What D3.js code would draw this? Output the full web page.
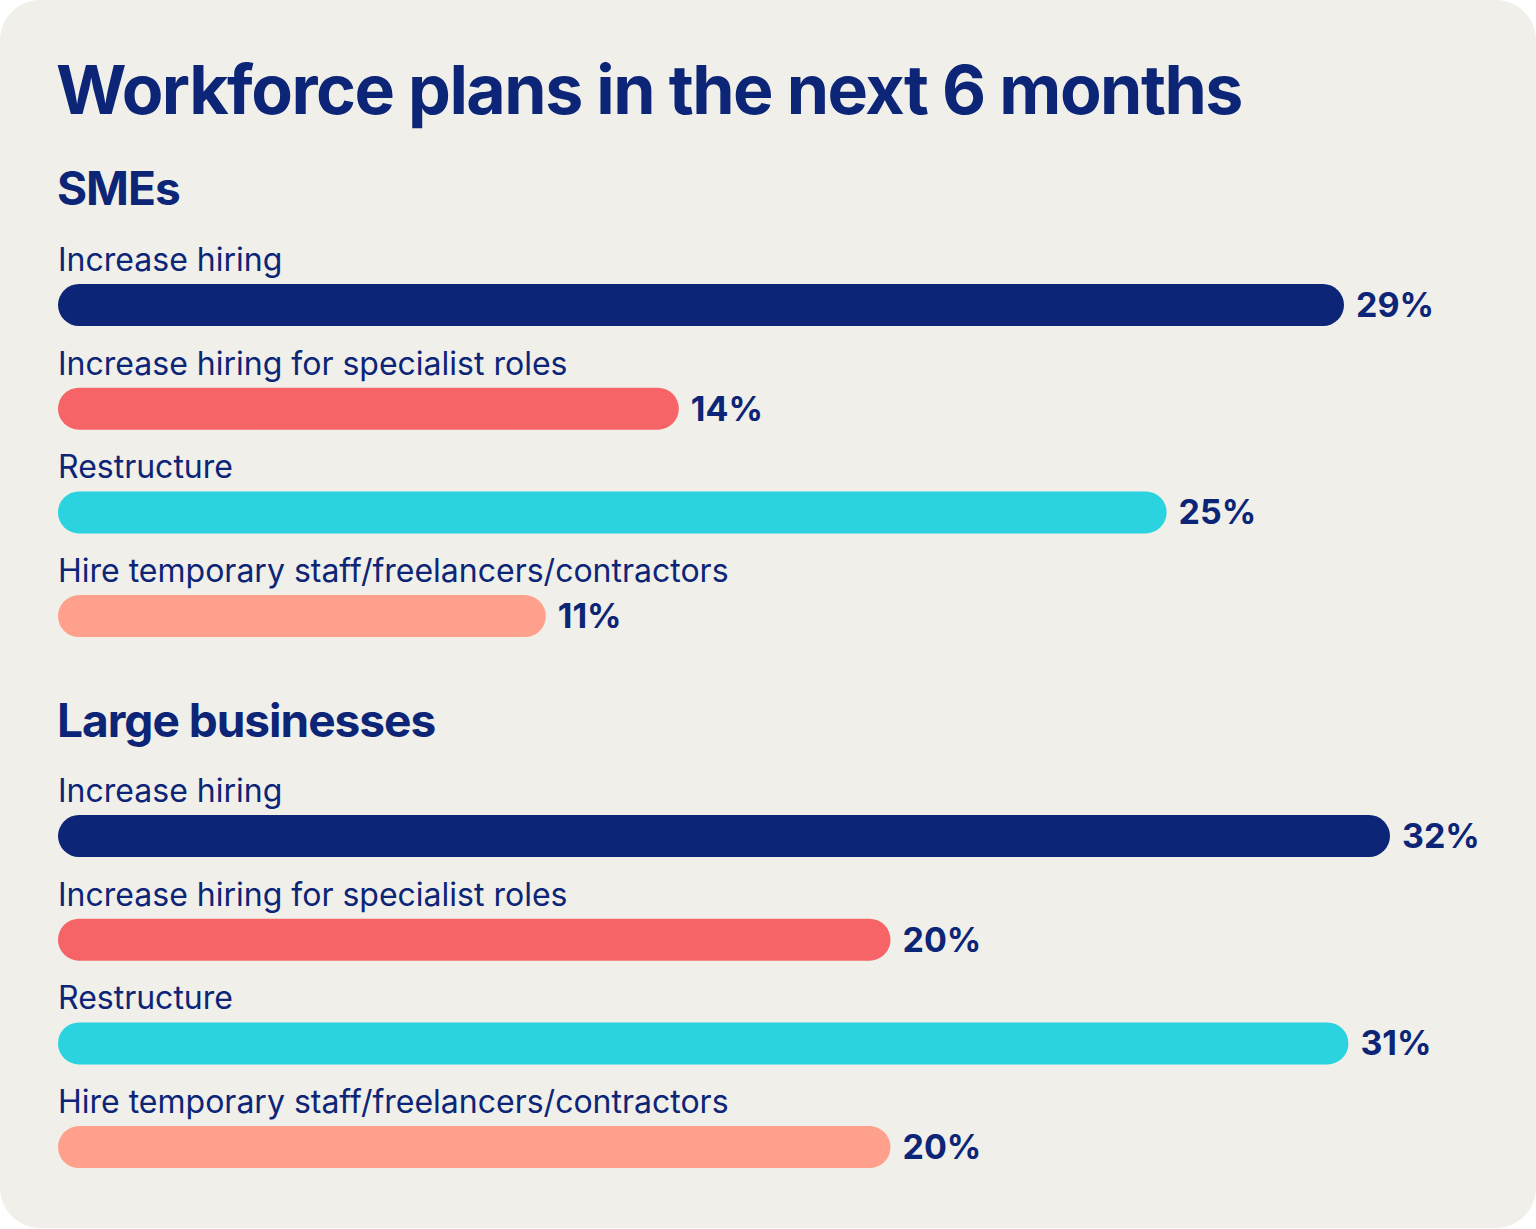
<!DOCTYPE html>
<html><head><meta charset="utf-8">
<script src="https://cdn.jsdelivr.net/npm/d3@7"></script>
<style>body{margin:0;background:#fff}svg{display:block}</style>
</head><body><div class="chart"></div>
<script>
const w = 1536, h = 1229;
const categories = ["Increase hiring", "Increase hiring for specialist roles", "Restructure", "Hire temporary staff/freelancers/contractors"];
const colors = ["#0c2577", "#f76467", "#2bd3e0", "#ffa08c"];
const smeValues = [29, 14, 25, 11];
const largeValues = [32, 20, 31, 20];
const groups = [
  {name: "SMEs", values: smeValues, top: 284, head: 205, max: 1344},
  {name: "Large businesses", values: largeValues, top: 815, head: 737, max: 1390}
];
const navy = "#0c2577";
const font = "Inter, 'Noto Sans', sans-serif";

const svg = d3.select(".chart").append("svg").attr("width", w).attr("height", h);
svg.append("rect").attr("x", 0).attr("y", 0).attr("width", w).attr("height", h - 1)
  .attr("rx", 40).attr("fill", "#f0efe9");

svg.append("text").attr("x", 56).attr("y", 114).text("Workforce plans in the next 6 months")
  .attr("font-family", font).attr("font-weight", 700).attr("font-size", 68)
  .attr("letter-spacing", -1.5).attr("fill", navy);

groups.forEach(g => {
  const x = d3.scaleLinear().domain([0, d3.max(g.values)]).range([58, g.max]);
  const y = d3.scaleBand().domain(categories).range([g.top, g.top + 4 * 103.7]).paddingInner(0).paddingOuter(0);
  const gg = svg.append("g");
  gg.append("text").attr("x", 57).attr("y", g.head).text(g.name)
    .attr("font-family", font).attr("font-weight", 700).attr("font-size", 46)
    .attr("letter-spacing", -1).attr("fill", navy);
  const row = gg.selectAll(".row").data(categories).enter().append("g");
  row.append("text").attr("x", 58).attr("y", d => y(d) - 13).text(d => d)
    .attr("font-family", font).attr("font-size", 32).attr("fill", navy);
  row.append("rect").attr("x", x(0)).attr("y", d => y(d)).attr("height", 42)
    .attr("width", (d, i) => x(g.values[i]) - x(0)).attr("rx", 21)
    .attr("fill", (d, i) => colors[i]);
  row.append("text").attr("x", (d, i) => x(g.values[i]) + 12).attr("y", d => y(d) + 33)
    .text((d, i) => g.values[i] + "%")
    .attr("font-family", font).attr("font-weight", 700).attr("font-size", 34).attr("fill", navy);
});
</script></body></html>
